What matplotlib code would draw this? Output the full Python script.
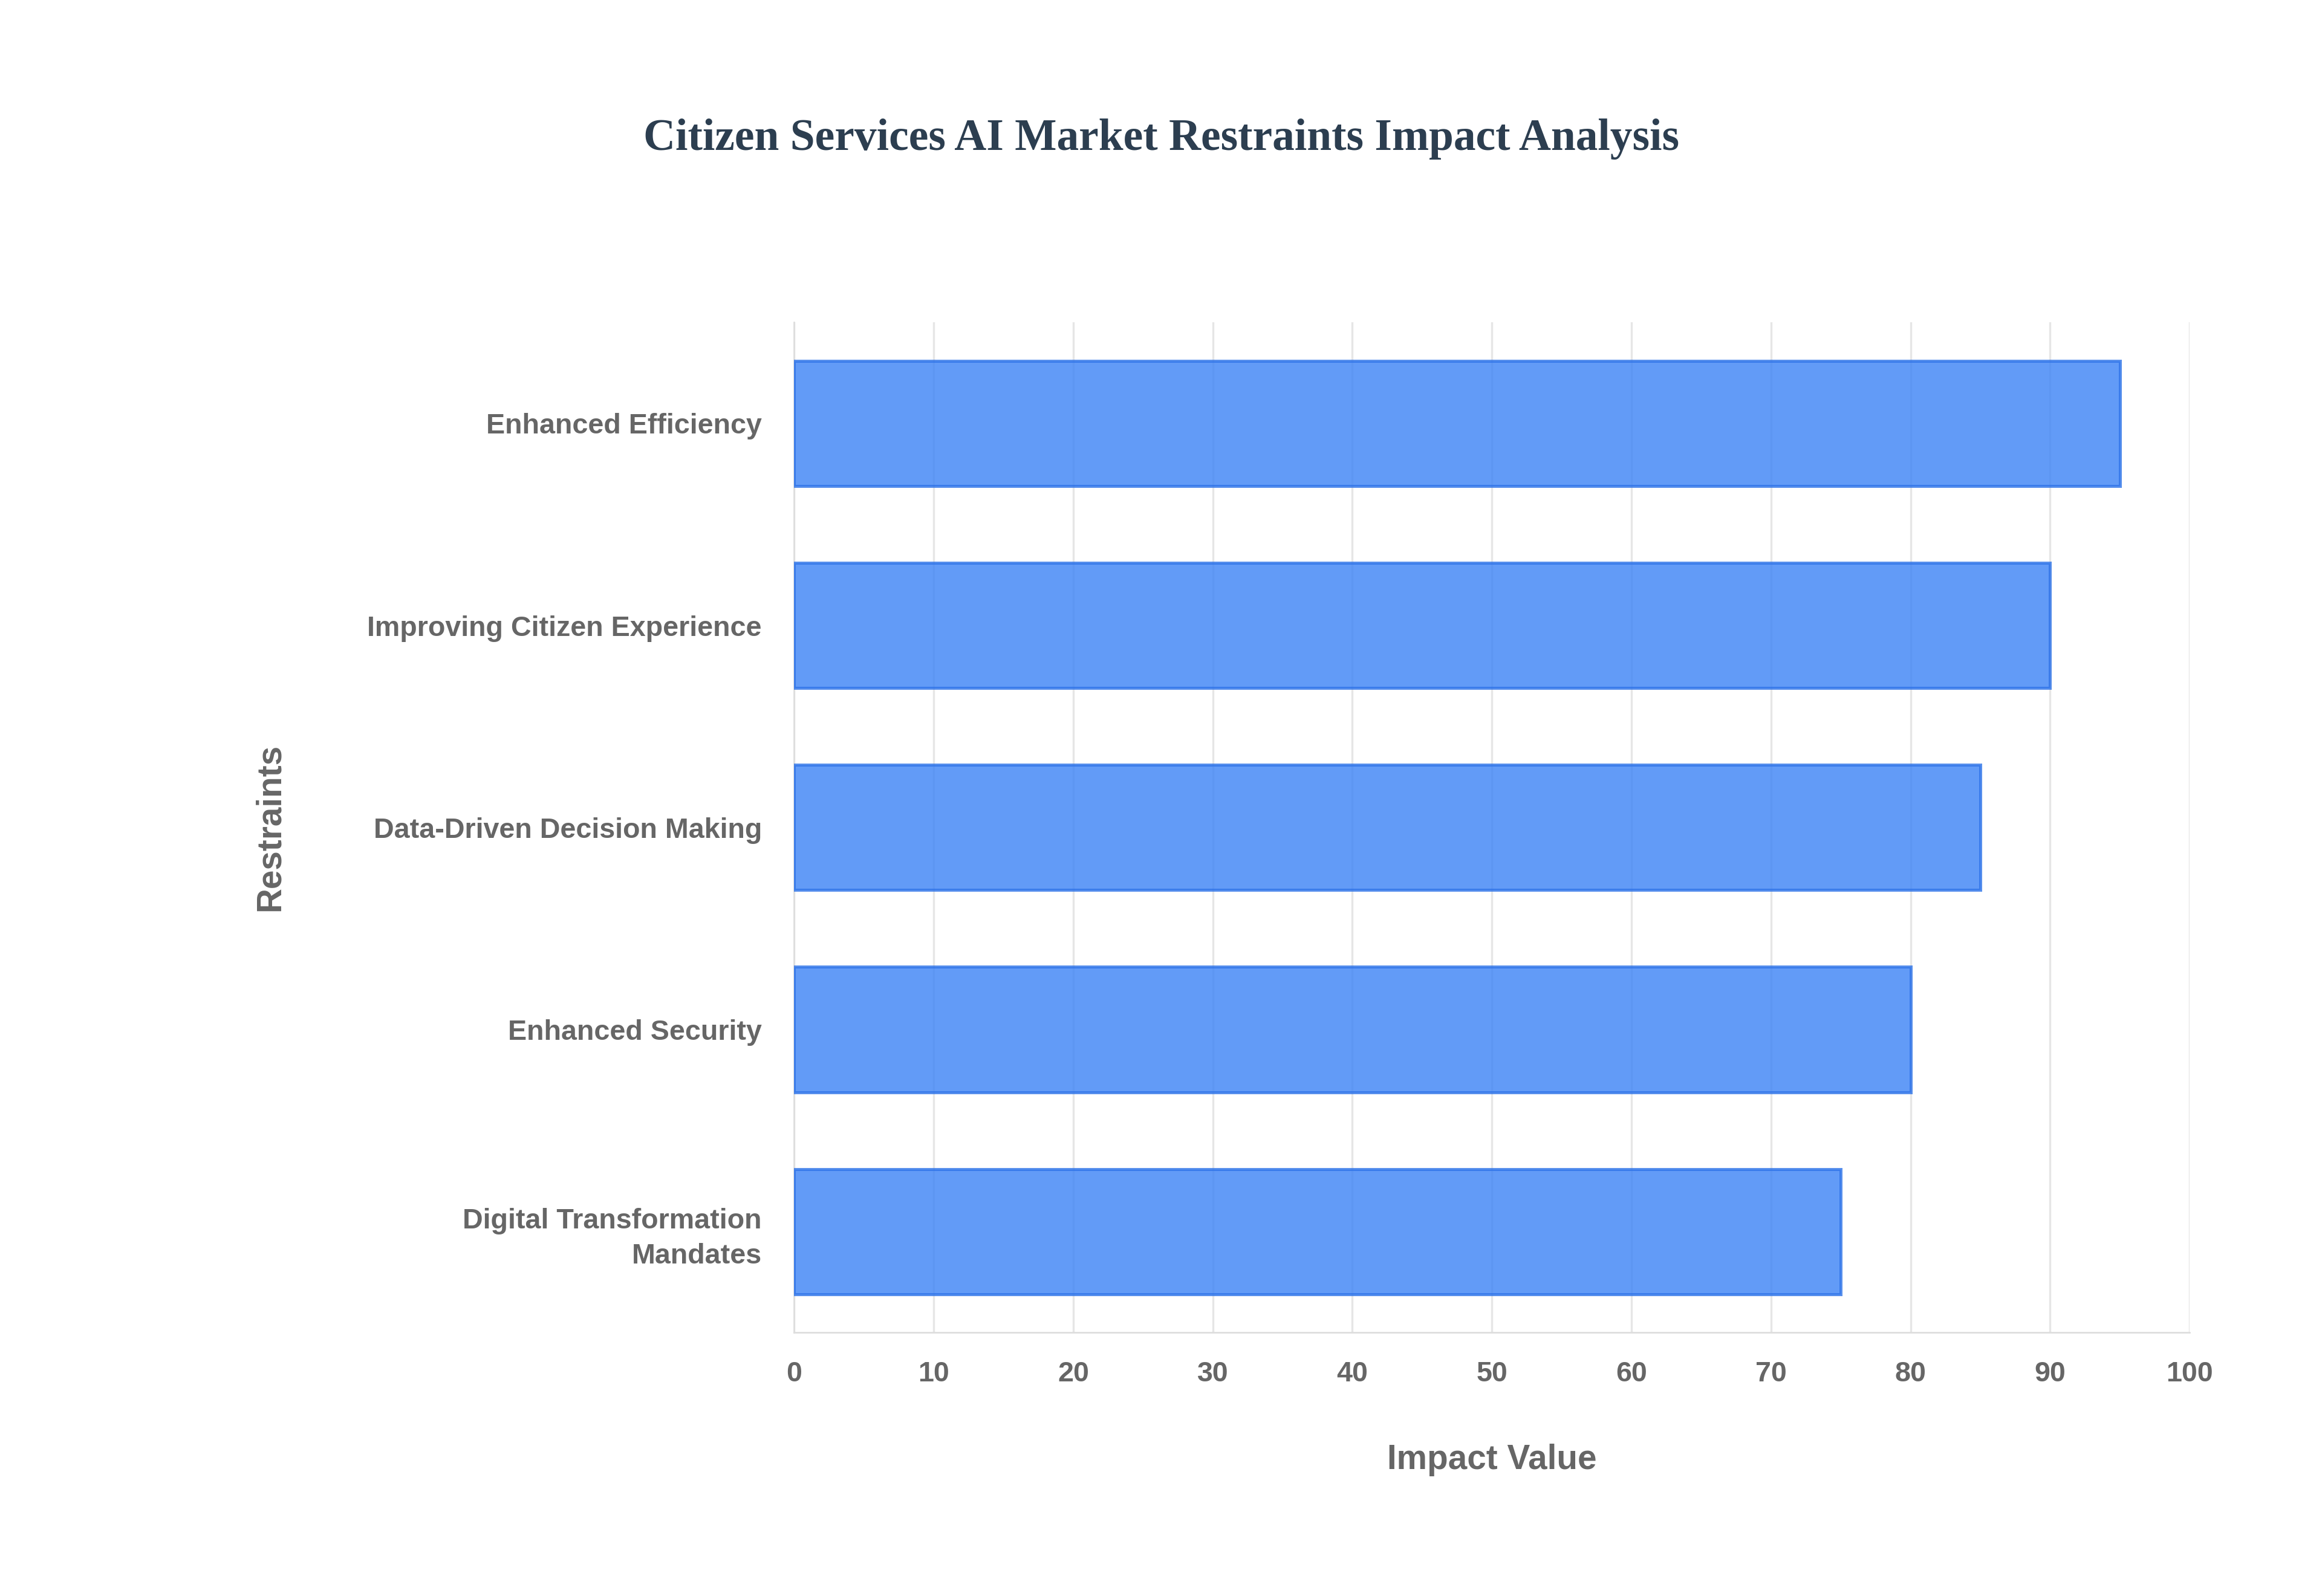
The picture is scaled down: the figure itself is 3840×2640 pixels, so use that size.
import matplotlib
matplotlib.use("Agg")
import matplotlib.pyplot as plt

categories = ["Enhanced Efficiency", "Improving Citizen Experience", "Data-Driven Decision Making",
              "Enhanced Security", "Digital Transformation\nMandates"]
values = [95, 90, 85, 80, 75]
xticks = list(range(0, 101, 10))

fig = plt.figure(figsize=(16, 11), dpi=240)
ax = fig.add_axes([0.342, 0.165, 0.601, 0.633])
y = list(range(len(categories)))[::-1]
ax.barh(y, values, height=0.62, color="#3b82f6", alpha=0.8, edgecolor="#2f74e8", linewidth=1.5, zorder=3)
ax.set_xlim(0, 100)
ax.set_ylim(-0.5, 4.5)
ax.set_xticks(xticks)
ax.set_yticks(y)
ax.set_yticklabels(categories, ha="right", linespacing=1.4)
for lab in ax.get_xticklabels() + ax.get_yticklabels():
    lab.set_fontfamily("Liberation Sans"); lab.set_fontweight("bold"); lab.set_color("#666666"); lab.set_fontsize(14)
ax.tick_params(axis="both", length=0, pad=16)
ax.tick_params(axis="x", pad=14)
ax.grid(axis="x", color="#e6e6e6", linewidth=1, zorder=0)
for s in ["top", "right"]:
    ax.spines[s].set_visible(False)
ax.spines["left"].set_color("#dddddd")
ax.spines["bottom"].set_color("#dddddd")
ax.set_xlabel("Impact Value", fontfamily="Liberation Sans", fontweight="bold", color="#666666", fontsize=17, labelpad=28)
ax.set_ylabel("Restraints", fontfamily="Liberation Sans", fontweight="bold", color="#666666", fontsize=17, labelpad=40)
fig.text(0.5, 0.913, "Citizen Services AI Market Restraints Impact Analysis", ha="center", va="center",
         fontfamily="Liberation Serif", fontweight="bold", color="#2c3e50", fontsize=22)
fig.savefig("out.png", dpi=240, facecolor="white")
